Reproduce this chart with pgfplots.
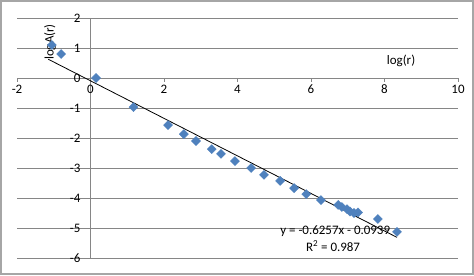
\documentclass[border=0pt]{standalone}
\usepackage{pgfplots}
\pgfplotsset{compat=1.18}
\usepackage{fontspec}
\setmainfont{Carlito}
\definecolor{exblue}{HTML}{4F81BD}
\definecolor{gridgray}{HTML}{868686}
\begin{document}
\begin{tikzpicture}
\begin{axis}[
 x=36.75bp, y=30bp,
 xmin=-2, xmax=10, ymin=-6, ymax=2,
 axis lines=middle,
 axis line style={-, gridgray, line width=0.8bp},
 xtick={-2,0,...,10}, ytick={-6,-5,...,2},
 ymajorgrids, grid style={gridgray, line width=0.8bp},
 hide obscured x ticks=false, hide obscured y ticks=false,
 /pgf/number format/assume math mode=true,
 tick label style={font=\fontsize{13}{15}\selectfont, text=black},
 xticklabel style={yshift=0bp},
 yticklabel style={xshift=-3bp},
 major tick length=3.5bp,
 tick align=outside,
 xtick style={gridgray, line width=0.8bp},
 ytick style={draw=none},
 clip=false,
]
\addplot[only marks, mark=square*, mark size=3.2bp,
  mark options={rotate=45, fill=exblue, draw=exblue}]
 coordinates {
 (-1.05,1.1) (-0.8,0.8) (0.15,0.0) (1.17,-0.97) (2.11,-1.57) (2.54,-1.87)
 (2.87,-2.1) (3.3,-2.37) (3.55,-2.53) (3.93,-2.77) (4.37,-3.0) (4.72,-3.23)
 (5.16,-3.43) (5.54,-3.67) (5.87,-3.87) (6.27,-4.07) (6.74,-4.23) (6.84,-4.3)
 (6.98,-4.37) (7.06,-4.45) (7.17,-4.5) (7.28,-4.48) (7.82,-4.7) (8.34,-5.13)
 };
\addplot[black, line width=0.8bp, no marks] coordinates {(-1.15,0.6257) (8.34,-5.3122)};
\node[font=\fontsize{13}{15}\selectfont] at (axis cs:8.45,0.57) {log(r)};
\node[font=\fontsize{13}{15}\selectfont, rotate=90] at (axis cs:-1.1,1.2) {logA(r)};
\node[font=\fontsize{13}{15}\selectfont, anchor=west, inner sep=0pt] at (axis cs:5.16,-5.1) {y = -0.6257x - 0.0939};
\node[font=\fontsize{13}{15}\selectfont, anchor=west, inner sep=0pt] at (axis cs:5.86,-5.6) {R\textsuperscript{2} = 0.987};
\coordinate (A) at (axis cs:-2.463,2.6);
\coordinate (B) at (axis cs:10.435,-6.567);
\end{axis}
\pgfresetboundingbox
\path (A) rectangle (B);
\draw[gray!70, line width=2bp] ([shift={(1bp,-1bp)}]A) rectangle ([shift={(-1bp,1bp)}]B);
\end{tikzpicture}
\end{document}
